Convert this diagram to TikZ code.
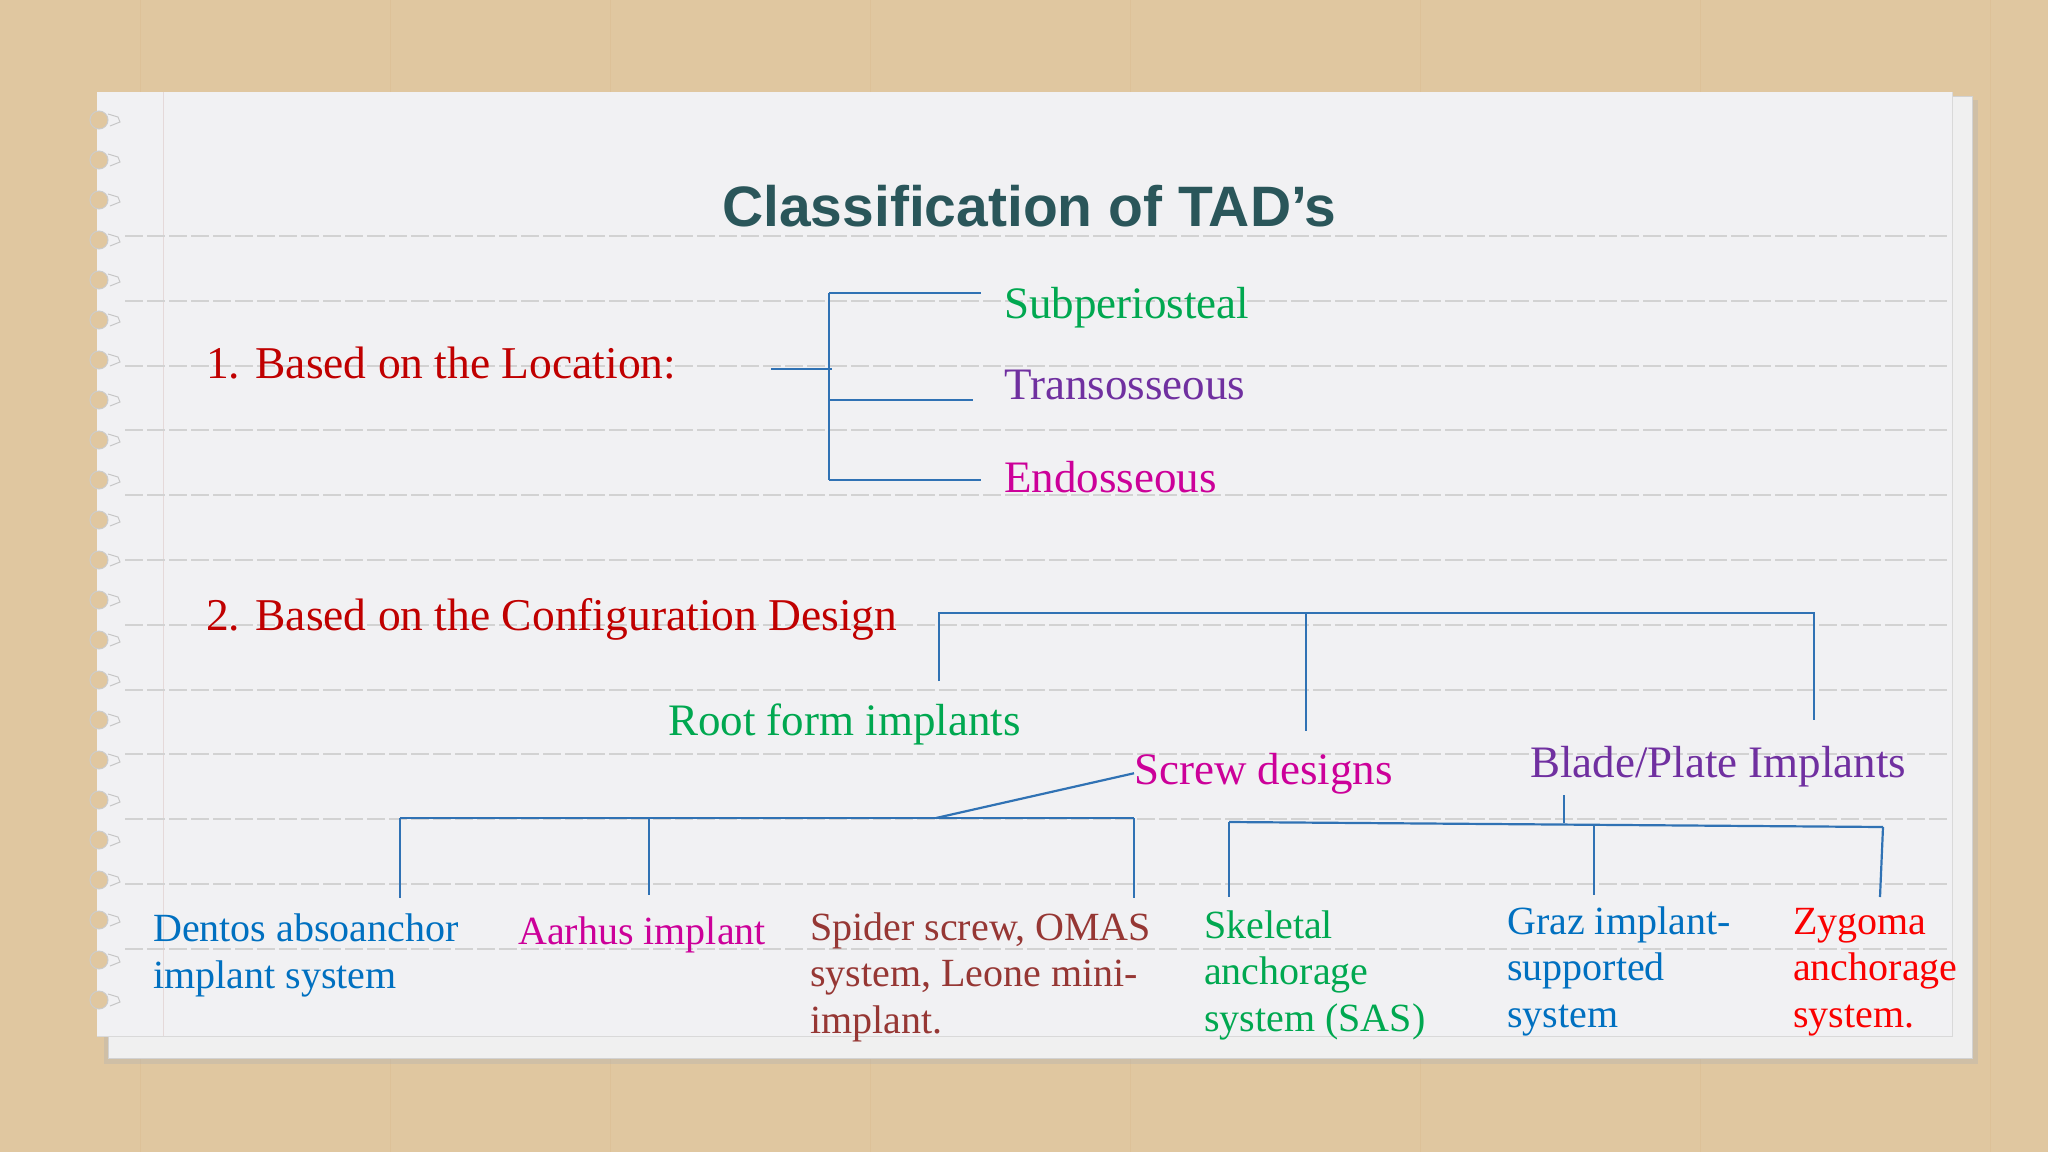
\documentclass[tikz,border=0pt]{standalone}
\usepackage{fontspec}
\setmainfont{Liberation Serif}
\newfontfamily\headfont{Liberation Sans}
\usetikzlibrary{positioning}

\definecolor{wood}{RGB}{224,199,160}
\definecolor{paper}{RGB}{241,241,243}
\definecolor{titleteal}{RGB}{42,86,90}
\definecolor{linkblue}{RGB}{48,114,180}
\definecolor{hred}{RGB}{192,0,0}
\definecolor{hgreen}{RGB}{0,168,80}
\definecolor{hpurple}{RGB}{112,48,160}
\definecolor{hmagenta}{RGB}{204,0,153}
\definecolor{hblue}{RGB}{0,112,192}
\definecolor{hbrown}{RGB}{150,55,52}
\definecolor{hbright}{RGB}{250,0,0}

\begin{document}
\begin{tikzpicture}[x=1pt,y=-1pt,
	head/.style={anchor=base west, inner sep=0pt, font=\fontsize{45.5}{50}\selectfont},
	lbl/.style={anchor=base west, inner sep=0pt, font=\fontsize{45}{50}\selectfont},
	leaf/.style={anchor=base west, inner sep=0pt, align=left, font=\fontsize{40}{46.5}\selectfont},
	link/.style={draw=linkblue, line width=2.2pt},
	rule/.style={draw=gray!35, line width=1.5pt, dash pattern=on 18pt off 4pt}
	]
	\useasboundingbox (0,0) rectangle (2048,1152);
	\fill[wood] (0,0) rectangle (2048,1152);
	\foreach \x in {140,390,610,870,1130,1420,1700,1990}
		\draw[wood!85!brown, line width=1pt, opacity=.5] (\x,0) -- (\x,1152);
	
	% sheets
	\fill[black!30, opacity=.35] (104,100) rectangle (1978,1064);
	\fill[gray!12] (108,96) rectangle (1972,1058);
	\draw[gray!35, line width=1pt] (108,96) rectangle (1972,1058);
	\fill[paper] (97,92) rectangle (1952,1036);
	\draw[gray!30, line width=1pt] (1952,92) -- (1952,1036) -- (97,1036);
	\foreach \y in {120,160,...,1010}{
		\fill[wood, draw=gray!40, line width=1pt] (99,\y) circle[radius=9pt];
		\draw[gray!45, line width=1pt] (108,\y-6) -- (118,\y-3) -- (120,\y+2) -- (110,\y+6);
	}
	\draw[red!20!gray!25, line width=1pt] (163,92) -- (163,1036);
	\foreach \k in {0,...,11}
		\draw[rule] (125,{round(236+64.8*\k)}) -- (1950,{round(236+64.8*\k)});
	
	\node[anchor=base west, inner sep=0pt, text=titleteal,
		font=\headfont\bfseries\fontsize{57}{60}\selectfont] (title) at (722,226) {Classification of TAD’s};
	
	% location
	\node[head, text=hred] (loc) at (206,378) {1. Based on the Location:};
	\node[lbl, text=hgreen] (sub) at (1004,318) {Subperiosteal};
	\node[lbl, text=hpurple] (trans) at (1004,399) {Transosseous};
	\node[lbl, text=hmagenta] (endo) at (1004,492) {Endosseous};
	
	\coordinate (lstub) at (771,369);
	\coordinate (ljoin) at (832,369);
	\coordinate (l1) at (829,293);
	\coordinate (l2) at (829,400);
	\coordinate (l3) at (829,480);
	\coordinate (subend) at (981,293);
	\coordinate (transend) at (973,400);
	\coordinate (endoend) at (981,480);
	\draw[link] (lstub) -- (ljoin);
	\draw[link] (l1) -- (l3);
	\draw[link] (l1) -- (subend);
	\draw[link] (l2) -- (transend);
	\draw[link] (l3) -- (endoend);
	
	% configuration
	\node[head, text=hred] (conf) at (206,630) {2. Based on the Configuration Design};
	\node[lbl, text=hgreen] (root) at (668,735) {Root form implants};
	\node[lbl, text=hmagenta] (screw) at (1134,784) {Screw designs};
	\node[lbl, text=hpurple] (blade) at (1530,777) {Blade/Plate Implants};
	
	\coordinate (c1) at (939,613);
	\coordinate (c2) at (1306,613);
	\coordinate (c3) at (1814,613);
	\coordinate (rootup) at (939,681);
	\coordinate (screwup) at (1306,731);
	\coordinate (bladeup) at (1814,720);
	\draw[link] (rootup) -- (c1) -- (c3) -- (bladeup);
	\draw[link] (c2) -- (screwup);
	
	% screw designs (base = last line)
	\node[leaf, text=hblue] (dentos) at (153,988) {Dentos absoanchor\\implant system};
	\node[leaf, text=hmagenta] (aarhus) at (518,944) {Aarhus implant};
	\node[leaf, text=hbrown] (spider) at (810,1033) {Spider screw, OMAS\\system, Leone mini-\\implant.};
	
	\coordinate (sa) at (400,818);
	\coordinate (sb) at (649,818);
	\coordinate (sj) at (936,818);
	\coordinate (sc) at (1134,818);
	\coordinate (saend) at (400,898);
	\coordinate (sbend) at (649,895);
	\coordinate (scend) at (1134,898);
	\draw[link] (screw.west) -- (sj);
	\draw[link] (sa) -- (sc);
	\draw[link] (sa) -- (saend);
	\draw[link] (sb) -- (sbend);
	\draw[link] (sc) -- (scend);
	
	% blade / plate
	\node[leaf, text=hgreen] (sas) at (1204,1031) {Skeletal\\anchorage\\system (SAS)};
	\node[leaf, text=hblue] (graz) at (1507,1027) {Graz implant-\\supported\\system};
	\node[leaf, text=hbright] (zyg) at (1793,1027) {Zygoma\\anchorage\\system.};
	
	\coordinate (bstub) at (1564,795);
	\coordinate (bjoin) at (1564,823);
	\coordinate (ba) at (1229,822);
	\coordinate (bb) at (1594,824);
	\coordinate (bc) at (1883,827);
	\coordinate (baend) at (1229,897);
	\coordinate (bbend) at (1594,895);
	\coordinate (bcend) at (1880,897);
	\draw[link] (bstub) -- (bjoin);
	\draw[link] (ba) -- (bc);
	\draw[link] (ba) -- (baend);
	\draw[link] (bb) -- (bbend);
	\draw[link] (bc) -- (bcend);
\end{tikzpicture}
\end{document}
